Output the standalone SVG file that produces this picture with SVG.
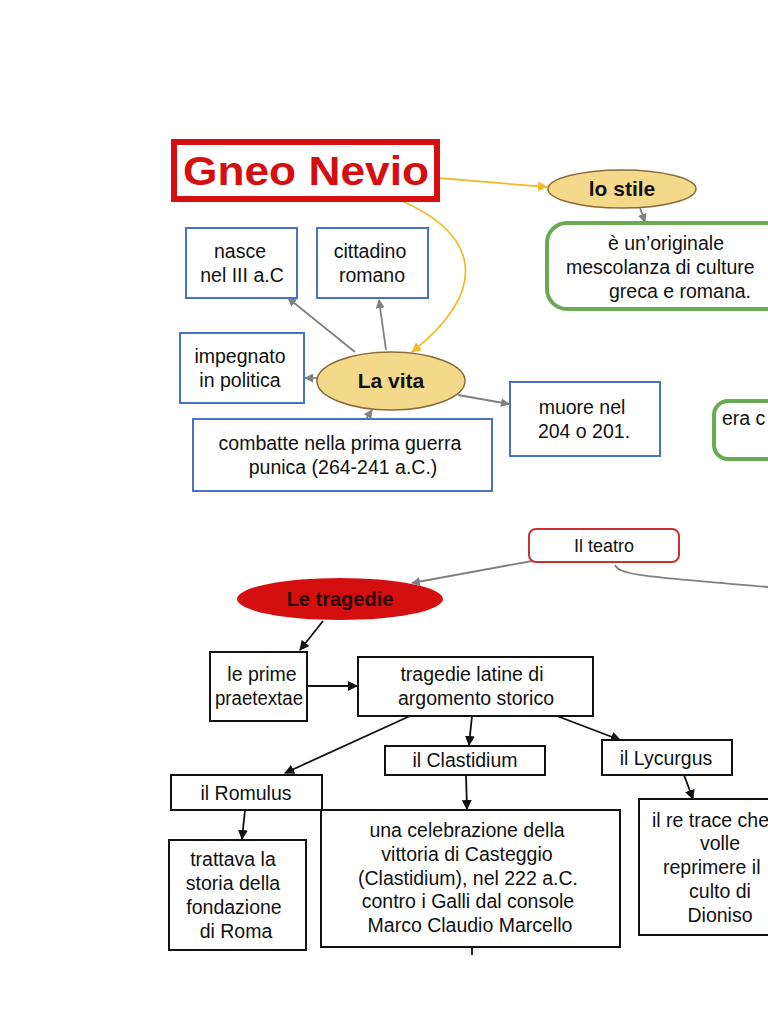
<svg xmlns="http://www.w3.org/2000/svg" width="768" height="1024" viewBox="0 0 768 1024">
<style>
text{font-family:"Liberation Sans",Arial,sans-serif;fill:#111;text-anchor:middle}
.t{font-size:19.5px}
.b{fill:#fff;stroke:#4a72c4;stroke-width:2}
.k{fill:#fff;stroke:#111;stroke-width:2}
.g{fill:none;stroke:#808080;stroke-width:1.8}
.y{fill:none;stroke:#f0bb30;stroke-width:1.8}
.d{fill:none;stroke:#111;stroke-width:1.8}
</style>
<defs>
<marker id="ag" viewBox="0 0 10 10" refX="9" refY="5" markerWidth="9" markerHeight="9" orient="auto" markerUnits="userSpaceOnUse"><path d="M0,0L10,5L0,10z" fill="#808080"/></marker>
<marker id="ay" viewBox="0 0 10 10" refX="9" refY="5" markerWidth="10" markerHeight="10" orient="auto" markerUnits="userSpaceOnUse"><path d="M0,0L10,5L0,10z" fill="#f0bb30"/></marker>
<marker id="ad" viewBox="0 0 10 10" refX="9" refY="5" markerWidth="10" markerHeight="10" orient="auto" markerUnits="userSpaceOnUse"><path d="M0,0L10,5L0,10z" fill="#111"/></marker>
</defs>
<rect width="768" height="1024" fill="#fff"/>
<g id="connectors">
<path class="y" d="M438,178 L547,187" marker-end="url(#ay)"/>
<path class="y" d="M400,200 C480,235 490,290 412,352" marker-end="url(#ay)"/>
<path class="g" d="M640,208 L645,222" marker-end="url(#ag)"/>
<path class="g" d="M355,352 L288,298" marker-end="url(#ag)"/>
<path class="g" d="M386,350 L379,300" marker-end="url(#ag)"/>
<path class="g" d="M318,378 L305,378" marker-end="url(#ag)"/>
<path class="g" d="M366,419 L372,410" marker-end="url(#ag)"/>
<path class="g" d="M458,395 L509,404" marker-end="url(#ag)"/>
<path class="g" d="M532,561 L412,583" marker-end="url(#ag)"/>
<path class="g" d="M615,565 C620,575 640,576 768,587"/>
<path class="d" d="M323,621 L300,650" marker-end="url(#ad)"/>
<path class="d" d="M307,686 L357,686" marker-end="url(#ad)"/>
<path class="d" d="M410,716 L285,773" marker-end="url(#ad)"/>
<path class="d" d="M472,716 L469,745" marker-end="url(#ad)"/>
<path class="d" d="M557,716 L620,740" marker-end="url(#ad)"/>
<path class="d" d="M466,775 L467,809" marker-end="url(#ad)"/>
<path class="d" d="M684,775 L693,799" marker-end="url(#ad)"/>
<path class="d" d="M245,810 L242,839" marker-end="url(#ad)"/>
<path class="d" d="M472,947 L472,955" stroke-width="1"/>
</g>
<g id="gneo"><rect x="174" y="142" width="263" height="57" fill="#fff" stroke="#d40f0f" stroke-width="6"/><text x="306" y="185" textLength="246" lengthAdjust="spacingAndGlyphs" style="font-size:40px;font-weight:bold;fill:#d40f0f">Gneo Nevio</text></g>
<g id="stile"><ellipse cx="622" cy="189" rx="74" ry="19" fill="#f5d98b" stroke="#8a6a3a" stroke-width="1.5"/><text x="622" y="196" style="font-size:21px;font-weight:bold">lo stile</text></g>
<g id="mescolanza"><rect x="547" y="223" width="250" height="86" rx="20" fill="#fff" stroke="#6aaa55" stroke-width="4"/><text class="t" x="666" y="250">è un’originale</text><text class="t" x="566" y="274" style="text-anchor:start">mescolanza di culture</text><text class="t" x="680" y="298">greca e romana.</text></g>
<g id="era"><rect x="714" y="401" width="90" height="58" rx="14" fill="#fff" stroke="#6aaa55" stroke-width="4"/><text class="t" x="722" y="425" style="text-anchor:start">era c</text></g>
<g id="nasce"><rect class="b" x="186" y="228" width="111" height="70"/><text class="t" x="240" y="258">nasce</text><text class="t" x="242" y="282">nel III a.C</text></g>
<g id="cittadino"><rect class="b" x="317" y="228" width="111" height="70"/><text class="t" x="370" y="258">cittadino</text><text class="t" x="372" y="282">romano</text></g>
<g id="impegnato"><rect class="b" x="180" y="333" width="124" height="70"/><text class="t" x="240" y="363">impegnato</text><text class="t" x="240" y="387">in politica</text></g>
<g id="vita"><ellipse cx="391" cy="381" rx="74" ry="29" fill="#f5d98b" stroke="#8a6a3a" stroke-width="1.5"/><text x="391" y="388" style="font-size:21px;font-weight:bold">La vita</text></g>
<g id="combatte"><rect class="b" x="193" y="419" width="299" height="72"/><text class="t" x="340" y="450">combatte nella prima guerra</text><text class="t" x="343" y="474">punica (264-241 a.C.)</text></g>
<g id="muore"><rect class="b" x="510" y="382" width="150" height="74"/><text class="t" x="582" y="414">muore nel</text><text class="t" x="584" y="438">204 o 201.</text></g>
<g id="teatro"><rect x="529" y="529" width="150" height="33" rx="7" fill="#fff" stroke="#c83232" stroke-width="2"/><text x="604" y="552" style="font-size:18px">Il teatro</text></g>
<g id="tragedie"><ellipse cx="340" cy="599" rx="103" ry="21" fill="#d40f0f"/><text x="340" y="606" style="font-size:20px;font-weight:bold;fill:#2a0a0a">Le tragedie</text></g>
<g id="prime"><rect class="k" x="210" y="652" width="97" height="69"/><text class="t" x="262" y="681">le prime</text><text class="t" x="259" y="705" textLength="88" lengthAdjust="spacingAndGlyphs">praetextae</text></g>
<g id="latine"><rect class="k" x="358" y="657" width="235" height="59"/><text class="t" x="472" y="681">tragedie latine di</text><text class="t" x="476" y="705">argomento storico</text></g>
<g id="clastidium"><rect class="k" x="385" y="746" width="160" height="29"/><text class="t" x="465" y="767">il Clastidium</text></g>
<g id="lycurgus"><rect class="k" x="602" y="740" width="130" height="35"/><text class="t" x="666" y="765">il Lycurgus</text></g>
<g id="romulus"><rect class="k" x="171" y="775" width="151" height="35"/><text class="t" x="246" y="800">il Romulus</text></g>
<g id="romulus-desc"><rect class="k" x="169" y="840" width="137" height="110"/><text class="t" x="233" y="866">trattava la</text><text class="t" x="233" y="890">storia della</text><text class="t" x="234" y="914">fondazione</text><text class="t" x="236" y="938">di Roma</text></g>
<g id="clastidium-desc"><rect class="k" x="321" y="810" width="299" height="137"/><text class="t" x="467" y="837">una celebrazione della</text><text class="t" x="467" y="861">vittoria di Casteggio</text><text class="t" x="468" y="885">(Clastidium),  nel 222 a.C.</text><text class="t" x="468" y="908">contro i Galli dal console</text><text class="t" x="470" y="932">Marco Claudio Marcello</text></g>
<g id="lycurgus-desc"><rect class="k" x="639" y="799" width="145" height="136"/><text class="t" x="652" y="827" style="text-anchor:start">il re trace che</text><text class="t" x="720" y="850">volle</text><text class="t" x="663" y="874" style="text-anchor:start">reprimere il</text><text class="t" x="720" y="898">culto di</text><text class="t" x="720" y="922">Dioniso</text></g>
</svg>
